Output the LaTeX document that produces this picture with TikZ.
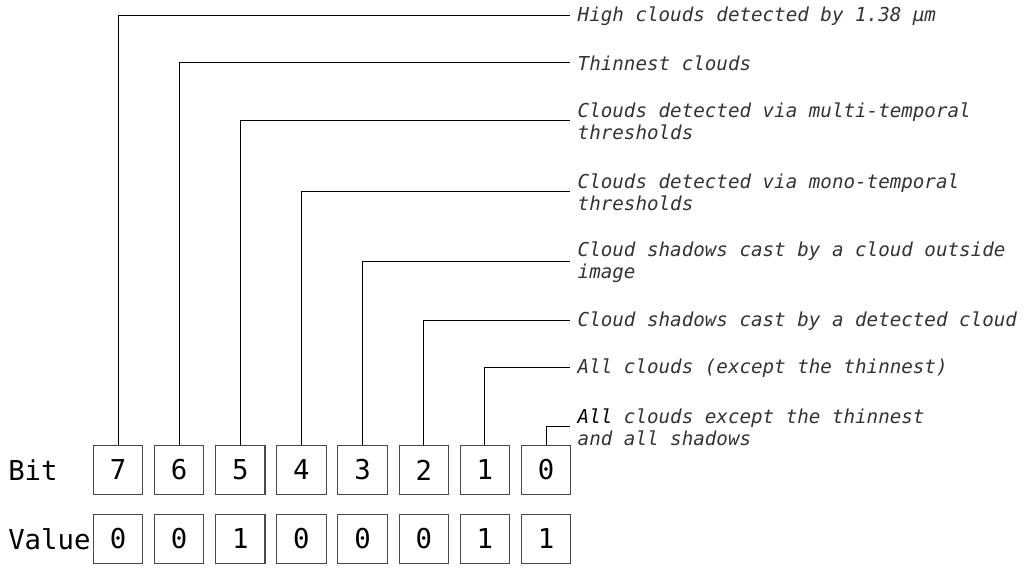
\documentclass[tikz,border=0pt]{standalone}
\usepackage{fontspec}
\setmonofont{DejaVu Sans Mono}
\usepackage{xcolor}
\definecolor{label-gray}{HTML}{333333}
\definecolor{box-gray}{HTML}{4A4A4A}

\begin{document}
\begin{tikzpicture}[x=0.75pt, y=-0.75pt,
    bitbox/.style={draw=box-gray, line width=0.8pt, minimum width=37pt,
                   minimum height=37pt, inner sep=0pt,
                   font=\fontsize{20.5}{24}\selectfont\ttfamily},
    rowname/.style={anchor=west, inner sep=0pt,
                    font=\fontsize{20.5}{24}\selectfont\ttfamily},
    flag/.style={anchor=west, align=left, text=label-gray, inner xsep=5.6pt,
                 inner ysep=4.6pt, yshift=-1pt,
                 font=\fontsize{14.4}{17}\selectfont\ttfamily\itshape},
    leader/.style={line width=0.7pt}]
    \useasboundingbox (0,0) rectangle (1024,576);
    % bit and value rows
    \node[rowname] (bitname) at (8,470) {Bit};
    \node[rowname] (valname) at (8,539) {Value};
    \foreach \b/\v in {0/1,1/1,2/0,3/0,4/0,5/1,6/0,7/0} {
      \node[bitbox] (bit\b) at ({118+61.15*(7-\b)},470) {\b};
      \node[bitbox] (val\b) at ({118+61.15*(7-\b)},539) {\v};
    }
    % labels
    \node[flag] (lab7) at (570,15)  {High clouds detected by 1.38 μm};
    \node[flag] (lab6) at (570,62)  {Thinnest clouds};
    \node[flag] (lab5) at (570,120) {Clouds detected via multi-temporal\\thresholds};
    \node[flag] (lab4) at (570,191) {Clouds detected via mono-temporal\\thresholds};
    \node[flag] (lab3) at (570,261) {Cloud shadows cast by a cloud outside\\image};
    \node[flag] (lab2) at (570,320) {Cloud shadows cast by a detected cloud};
    \node[flag] (lab1) at (570,367) {All clouds (except the thinnest)};
    \node[flag] (lab0) at (570,426) {\textcolor{black}{All} clouds except the thinnest\\and all shadows};
    \foreach \b in {0,...,7}
      \draw[leader] (bit\b.north) |- ([yshift=1pt]lab\b.west);
  \end{tikzpicture}
\end{document}
